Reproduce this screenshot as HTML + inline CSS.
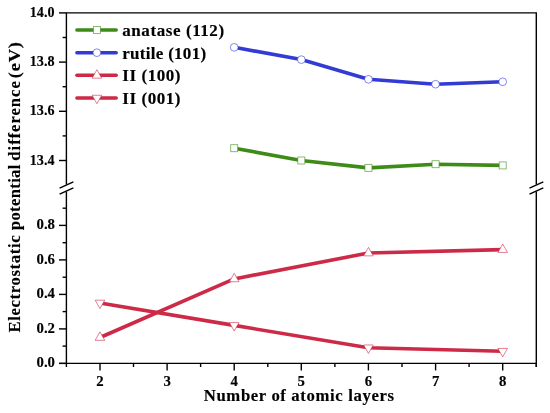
<!DOCTYPE html>
<html lang="en"><head><meta charset="utf-8"><title>Electrostatic potential difference</title>
<style>html,body{margin:0;padding:0;background:#fff}body{width:550px;height:413px;overflow:hidden}svg{display:block}text{font-family:"Liberation Serif", "DejaVu Serif", serif;font-weight:bold;fill:#000;stroke:#000;stroke-width:0.15px}</style></head><body>
<svg width="550" height="413" viewBox="0 0 550 413">
<rect width="550" height="413" fill="#fff"/>
<g stroke="#000" stroke-width="1.4" fill="none">
<path d="M66.4 184.6 V12.9 H536.3 V184.6"/>
<path d="M66.4 191.6 V366.95000000000005 M59.00000000000001 363.35 H536.3 M536.3 366.95000000000005 V191.6"/>
<path d="M59.6 188.2 L73.4 181.8"/>
<path d="M59.6 194.2 L73.4 187.8"/>
<path d="M529.5 188.2 L543.3 181.8"/>
<path d="M529.5 194.2 L543.3 187.8"/>
<path d="M59.0 12.9 H66.4"/>
<path d="M62.6 37.5 H66.4"/>
<path d="M59.0 62.1 H66.4"/>
<path d="M62.6 86.7 H66.4"/>
<path d="M59.0 111.3 H66.4"/>
<path d="M62.6 135.9 H66.4"/>
<path d="M59.0 160.5 H66.4"/>
<path d="M59.0 363.4 H66.4"/>
<path d="M62.6 346.1 H66.4"/>
<path d="M59.0 328.9 H66.4"/>
<path d="M62.6 311.6 H66.4"/>
<path d="M59.0 294.4 H66.4"/>
<path d="M62.6 277.2 H66.4"/>
<path d="M59.0 259.9 H66.4"/>
<path d="M62.6 242.7 H66.4"/>
<path d="M59.0 225.4 H66.4"/>
<path d="M62.6 208.2 H66.4"/>
<path d="M100.0 363.35 V370.4"/>
<path d="M133.5 363.35 V367.0"/>
<path d="M167.1 363.35 V370.4"/>
<path d="M200.6 363.35 V367.0"/>
<path d="M234.2 363.35 V370.4"/>
<path d="M267.8 363.35 V367.0"/>
<path d="M301.3 363.35 V370.4"/>
<path d="M334.9 363.35 V367.0"/>
<path d="M368.4 363.35 V370.4"/>
<path d="M402.0 363.35 V367.0"/>
<path d="M435.6 363.35 V370.4"/>
<path d="M469.1 363.35 V367.0"/>
<path d="M502.7 363.35 V370.4"/>
<path d="M536.3 363.35 V367.0"/>
</g>
<text transform="translate(54.5 16.9) scale(0.955 1)" font-size="14.8" text-anchor="end">14.0</text>
<text transform="translate(54.5 66.1) scale(0.955 1)" font-size="14.8" text-anchor="end">13.8</text>
<text transform="translate(54.5 115.3) scale(0.955 1)" font-size="14.8" text-anchor="end">13.6</text>
<text transform="translate(54.5 164.5) scale(0.955 1)" font-size="14.8" text-anchor="end">13.4</text>
<text x="55.0" y="367.1" font-size="14.8" text-anchor="end">0.0</text>
<text x="55.0" y="332.6" font-size="14.8" text-anchor="end">0.2</text>
<text x="55.0" y="298.1" font-size="14.8" text-anchor="end">0.4</text>
<text x="55.0" y="263.6" font-size="14.8" text-anchor="end">0.6</text>
<text x="55.0" y="229.1" font-size="14.8" text-anchor="end">0.8</text>
<text x="100.0" y="385.8" font-size="14.8" text-anchor="middle">2</text>
<text x="167.1" y="385.8" font-size="14.8" text-anchor="middle">3</text>
<text x="234.2" y="385.8" font-size="14.8" text-anchor="middle">4</text>
<text x="301.3" y="385.8" font-size="14.8" text-anchor="middle">5</text>
<text x="368.4" y="385.8" font-size="14.8" text-anchor="middle">6</text>
<text x="435.6" y="385.8" font-size="14.8" text-anchor="middle">7</text>
<text x="502.7" y="385.8" font-size="14.8" text-anchor="middle">8</text>
<text x="203.75" y="401.40" font-size="16.7" letter-spacing="0.634">Number of atomic layers</text>
<text transform="translate(19.80 332.45) rotate(-90) scale(1 1)" font-size="16.7" letter-spacing="0.621">Electrostatic</text>
<text transform="translate(19.80 230.20) rotate(-90) scale(1 1)" font-size="16.7" letter-spacing="0.319">potential</text>
<text transform="translate(19.80 160.65) rotate(-90) scale(1 1)" font-size="16.7" letter-spacing="0.933">difference</text>
<text transform="translate(19.80 78.15) rotate(-90) scale(1.1 1)" font-size="16.7" letter-spacing="0.692">(eV)</text>
<polyline points="234.2,148.2 301.3,160.5 368.4,167.9 435.6,164.2 502.7,165.4" fill="none" stroke="#3e8c17" stroke-width="3.6" stroke-linejoin="round" stroke-linecap="round"/>
<rect x="230.70" y="144.70" width="7.0" height="7.0" fill="#fff" stroke="#3e8c17" stroke-opacity="0.7" stroke-width="0.85"/>
<rect x="297.82" y="157.00" width="7.0" height="7.0" fill="#fff" stroke="#3e8c17" stroke-opacity="0.7" stroke-width="0.85"/>
<rect x="364.95" y="164.38" width="7.0" height="7.0" fill="#fff" stroke="#3e8c17" stroke-opacity="0.7" stroke-width="0.85"/>
<rect x="432.07" y="160.69" width="7.0" height="7.0" fill="#fff" stroke="#3e8c17" stroke-opacity="0.7" stroke-width="0.85"/>
<rect x="499.20" y="161.92" width="7.0" height="7.0" fill="#fff" stroke="#3e8c17" stroke-opacity="0.7" stroke-width="0.85"/>
<polyline points="234.2,47.3 301.3,59.6 368.4,79.3 435.6,84.2 502.7,81.8" fill="none" stroke="#323bd3" stroke-width="3.6" stroke-linejoin="round" stroke-linecap="round"/>
<circle cx="234.20" cy="47.34" r="3.85" fill="#fff" stroke="#323bd3" stroke-opacity="0.7" stroke-width="0.85"/>
<circle cx="301.32" cy="59.64" r="3.85" fill="#fff" stroke="#323bd3" stroke-opacity="0.7" stroke-width="0.85"/>
<circle cx="368.45" cy="79.32" r="3.85" fill="#fff" stroke="#323bd3" stroke-opacity="0.7" stroke-width="0.85"/>
<circle cx="435.57" cy="84.24" r="3.85" fill="#fff" stroke="#323bd3" stroke-opacity="0.7" stroke-width="0.85"/>
<circle cx="502.70" cy="81.78" r="3.85" fill="#fff" stroke="#323bd3" stroke-opacity="0.7" stroke-width="0.85"/>
<polyline points="100.0,337.5 234.2,278.9 368.4,253.0 502.7,249.6" fill="none" stroke="#cc2a47" stroke-width="3.6" stroke-linejoin="round" stroke-linecap="round"/>
<path d="M95.15 340.34 L104.75 340.34 L99.95 331.89 Z" fill="#fff" stroke="#cc2a47" stroke-opacity="0.7" stroke-width="0.85"/>
<path d="M229.40 281.72 L239.00 281.72 L234.20 273.27 Z" fill="#fff" stroke="#cc2a47" stroke-opacity="0.7" stroke-width="0.85"/>
<path d="M363.65 255.86 L373.25 255.86 L368.45 247.41 Z" fill="#fff" stroke="#cc2a47" stroke-opacity="0.7" stroke-width="0.85"/>
<path d="M497.90 252.42 L507.50 252.42 L502.70 243.97 Z" fill="#fff" stroke="#cc2a47" stroke-opacity="0.7" stroke-width="0.85"/>
<polyline points="100.0,303.0 234.2,325.4 368.4,347.8 502.7,351.3" fill="none" stroke="#cc2a47" stroke-width="3.6" stroke-linejoin="round" stroke-linecap="round"/>
<path d="M95.15 300.16 L104.75 300.16 L99.95 308.61 Z" fill="#fff" stroke="#cc2a47" stroke-opacity="0.7" stroke-width="0.85"/>
<path d="M229.40 322.57 L239.00 322.57 L234.20 331.02 Z" fill="#fff" stroke="#cc2a47" stroke-opacity="0.7" stroke-width="0.85"/>
<path d="M363.65 344.98 L373.25 344.98 L368.45 353.43 Z" fill="#fff" stroke="#cc2a47" stroke-opacity="0.7" stroke-width="0.85"/>
<path d="M497.90 348.43 L507.50 348.43 L502.70 356.88 Z" fill="#fff" stroke="#cc2a47" stroke-opacity="0.7" stroke-width="0.85"/>
<path d="M76.9 30.0 H116.2" stroke="#3e8c17" stroke-width="3.5" stroke-linecap="round" fill="none"/>
<rect x="93.40" y="26.50" width="7.0" height="7.0" fill="#fff" stroke="#3e8c17" stroke-opacity="0.7" stroke-width="0.85"/>
<text x="122.25" y="36.00" font-size="17" letter-spacing="0.579">anatase (112)</text>
<path d="M76.9 52.7 H116.2" stroke="#323bd3" stroke-width="3.5" stroke-linecap="round" fill="none"/>
<circle cx="96.90" cy="52.70" r="3.85" fill="#fff" stroke="#323bd3" stroke-opacity="0.7" stroke-width="0.85"/>
<text x="122.25" y="59.00" font-size="17" letter-spacing="0.282">rutile (101)</text>
<path d="M76.9 75.3 H116.2" stroke="#cc2a47" stroke-width="3.5" stroke-linecap="round" fill="none"/>
<path d="M92.10 78.15 L101.70 78.15 L96.90 69.70 Z" fill="#fff" stroke="#cc2a47" stroke-opacity="0.7" stroke-width="0.85"/>
<text x="122.25" y="81.20" font-size="17" letter-spacing="0.564">II (100)</text>
<path d="M76.9 98.1 H116.2" stroke="#cc2a47" stroke-width="3.5" stroke-linecap="round" fill="none"/>
<path d="M92.10 95.25 L101.70 95.25 L96.90 103.70 Z" fill="#fff" stroke="#cc2a47" stroke-opacity="0.7" stroke-width="0.85"/>
<text x="122.25" y="104.00" font-size="17" letter-spacing="0.564">II (001)</text>
</svg></body></html>
